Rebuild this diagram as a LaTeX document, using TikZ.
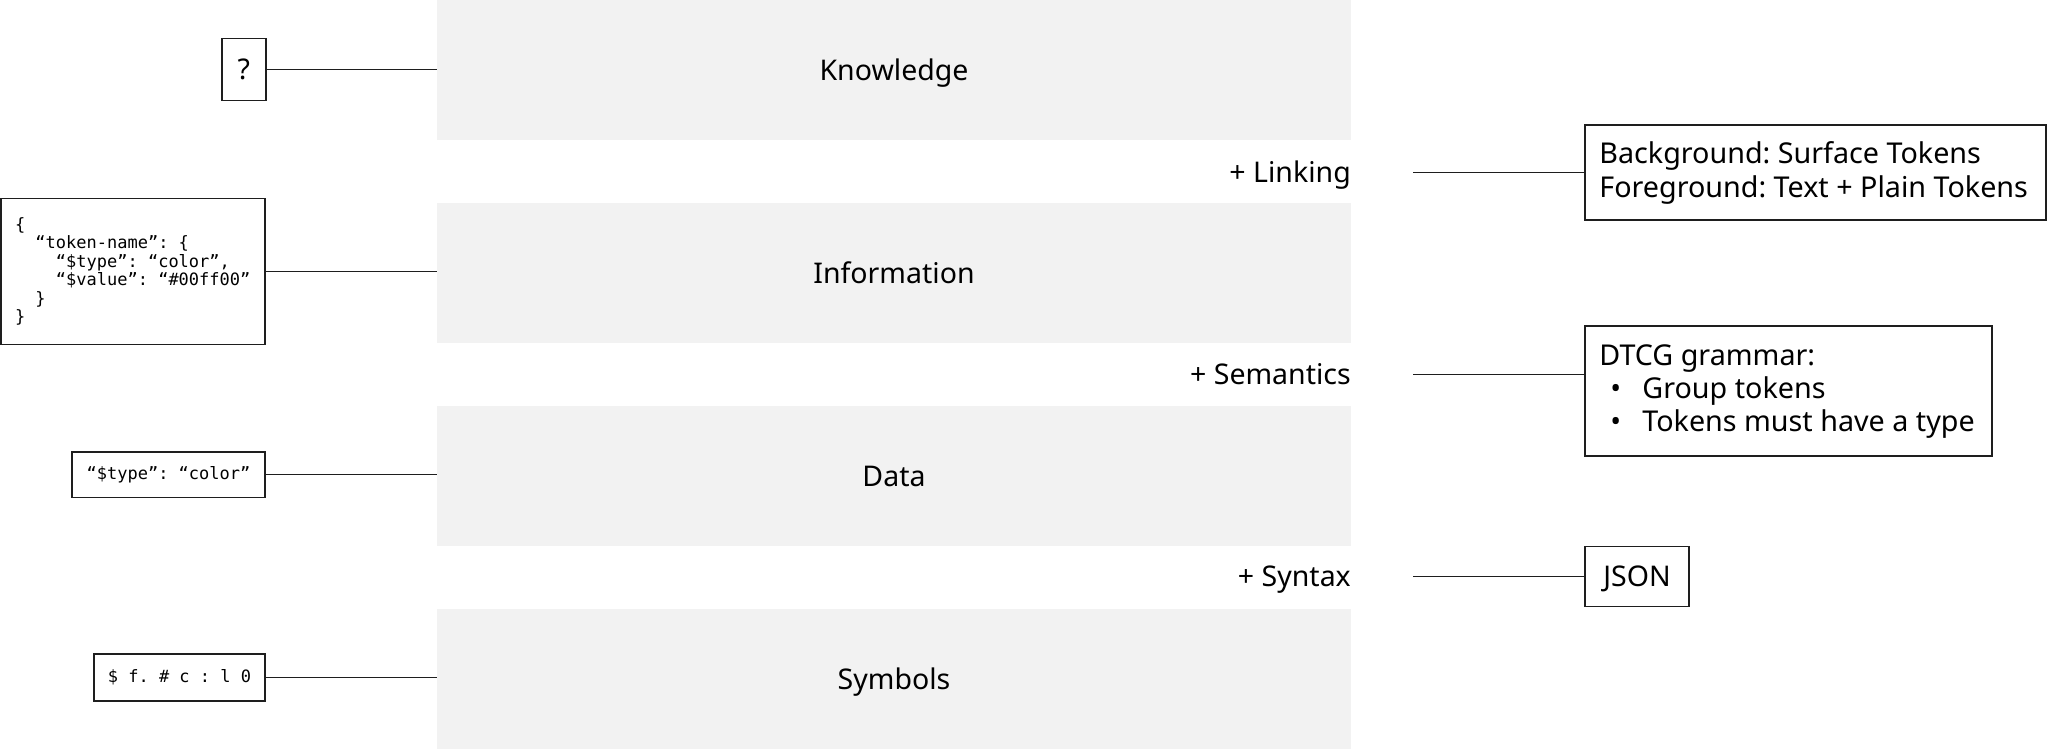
\documentclass[tikz,border=0pt]{standalone}
\usepackage{fontspec}
\setmainfont{Noto Sans}
\newfontfamily\monof{DejaVu Sans Mono}
\definecolor{bandgray}{HTML}{F2F2F2}
\definecolor{linecol}{HTML}{1E1E1E}
\newcommand{\ind}[1]{\phantom{#1}}
\begin{document}
\frenchspacing
\begin{tikzpicture}[x=1pt,y=-1pt,
  lab/.style={font=\fontsize{28.5}{34}\selectfont, text height=20.4pt, text depth=0pt},
  band/.style={lab, fill=bandgray, draw=none, minimum width=914pt, minimum height=140pt, inner sep=0pt},
  plus/.style={lab, anchor=east, inner sep=0pt},
  lbox/.style={draw=linecol, line width=1.6pt, inner sep=0pt},
  rframe/.style={draw=linecol, line width=1.6pt, inner sep=0pt},
  rtext/.style={anchor=west, inner sep=0pt, align=left, font=\fontsize{28.7}{34}\selectfont},
  monotext/.style={font=\monof\fontsize{17}{18.4}\selectfont},
  conn/.style={draw=linecol, line width=1.6pt}]
\useasboundingbox (0,0) rectangle (2048,749);
% bands
\node[band] (know) at (894,70) {Knowledge};
\node[band] (info) at (894,273) {Information};
\node[band] (data) at (894,476) {Data};
\node[band] (symb) at (894,679) {Symbols};
% plus labels
\node[plus] (plink) at (1351,172.5) {+ Linking};
\node[plus] (psem) at (1351,374.5) {+ Semantics};
\node[plus] (psyn) at (1351,576.5) {+ Syntax};
% left boxes
\node[lbox, lab, minimum width=44pt, minimum height=62pt] (q) at (243.7,69.5) {?};
\node[lbox, monotext, minimum height=146pt, text width=236pt, inner xsep=14pt, align=left] (json) at (133,271.5) {\spaceskip=0pt\xspaceskip=0pt\{\\
\ind{xx}“token-name”: \{\\
\ind{xxxx}“\$type”: “color”,\\
\ind{xxxx}“\$value”: “\#00ff00”\\
\ind{xx}\}\\
\}};
\node[lbox, monotext, minimum width=193pt, minimum height=45.6pt] (type) at (168.5,474.5) {“\$type”: “color”};
\node[lbox, monotext, minimum width=171pt, minimum height=47pt] (sym) at (179.5,677.5) {\$ f. \# c : l 0};
% right boxes
\node[rframe, minimum width=461pt, minimum height=95pt] (bg) at (1815.5,172.5) {};
\node[rtext] (bgt) at ([xshift=15pt]bg.west) {Background: Surface Tokens\\Foreground: Text + Plain Tokens};
\node[rframe, minimum width=407pt, minimum height=129.5pt] (dtcg) at (1788.5,391) {};
\node[rtext, font=\fontsize{28.7}{33}\selectfont] (dtcgt) at ([xshift=15pt,yshift=-1pt]dtcg.west) {DTCG grammar:\\
\makebox[43pt][l]{\hspace{11pt}\textbullet}Group tokens\\
\makebox[43pt][l]{\hspace{11pt}\textbullet}Tokens must have a type};
\node[rframe, lab, minimum width=104pt, minimum height=60pt] (jsn) at (1637,576.5) {JSON};
% connectors left
\draw[conn] (q.east) -- (q.east -| know.west);
\draw[conn] (json.east) -- (json.east -| info.west);
\draw[conn] (type.east) -- (type.east -| data.west);
\draw[conn] (sym.east) -- (sym.east -| symb.west);
% connectors right
\coordinate (c1) at (1413,172.5);
\coordinate (c2) at (1413,374.5);
\coordinate (c3) at (1413,576.5);
\draw[conn] (c1) -- (c1 -| bg.west);
\draw[conn] (c2) -- (c2 -| dtcg.west);
\draw[conn] (c3) -- (c3 -| jsn.west);
\end{tikzpicture}
\end{document}
